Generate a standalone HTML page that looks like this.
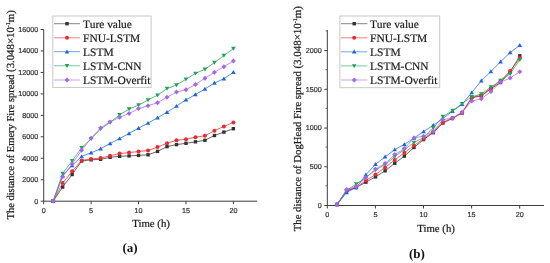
<!DOCTYPE html>
<html><head><meta charset="utf-8">
<style>
html,body{margin:0;padding:0;background:#fff;}
body{width:550px;height:263px;overflow:hidden;}
svg{display:block;filter:blur(0.35px);}
text{text-rendering:geometricPrecision;}
.tk{font-family:"Liberation Sans",sans-serif;font-size:7.2px;fill:#333;stroke:#333;stroke-width:0.2px;}
.lg{font-family:"Liberation Serif",serif;font-size:11.45px;fill:#1a1a1a;stroke:#1a1a1a;stroke-width:0.2px;}
.ax{font-family:"Liberation Serif",serif;fill:#1a1a1a;stroke:#1a1a1a;stroke-width:0.22px;}
.lab{font-family:"Liberation Serif",serif;font-size:13px;font-weight:bold;fill:#111;}
</style></head>
<body>
<svg width="550" height="263" viewBox="0 0 550 263">
<rect width="550" height="263" fill="#fff"/>
<path d="M43.7 29.3 L43.7 201.2 L257 201.2" fill="none" stroke="#3c3c3c" stroke-width="1"/>
<line x1="40.7" y1="201.20" x2="43.7" y2="201.20" stroke="#3c3c3c" stroke-width="1"/>
<text x="38.2" y="203.50" text-anchor="end" class="tk">0</text>
<line x1="40.7" y1="179.74" x2="43.7" y2="179.74" stroke="#3c3c3c" stroke-width="1"/>
<text x="38.2" y="182.04" text-anchor="end" class="tk">2000</text>
<line x1="40.7" y1="158.28" x2="43.7" y2="158.28" stroke="#3c3c3c" stroke-width="1"/>
<text x="38.2" y="160.58" text-anchor="end" class="tk">4000</text>
<line x1="40.7" y1="136.82" x2="43.7" y2="136.82" stroke="#3c3c3c" stroke-width="1"/>
<text x="38.2" y="139.12" text-anchor="end" class="tk">6000</text>
<line x1="40.7" y1="115.36" x2="43.7" y2="115.36" stroke="#3c3c3c" stroke-width="1"/>
<text x="38.2" y="117.66" text-anchor="end" class="tk">8000</text>
<line x1="40.7" y1="93.90" x2="43.7" y2="93.90" stroke="#3c3c3c" stroke-width="1"/>
<text x="38.2" y="96.20" text-anchor="end" class="tk">10000</text>
<line x1="40.7" y1="72.44" x2="43.7" y2="72.44" stroke="#3c3c3c" stroke-width="1"/>
<text x="38.2" y="74.74" text-anchor="end" class="tk">12000</text>
<line x1="40.7" y1="50.98" x2="43.7" y2="50.98" stroke="#3c3c3c" stroke-width="1"/>
<text x="38.2" y="53.28" text-anchor="end" class="tk">14000</text>
<line x1="40.7" y1="29.52" x2="43.7" y2="29.52" stroke="#3c3c3c" stroke-width="1"/>
<text x="38.2" y="31.82" text-anchor="end" class="tk">16000</text>
<line x1="43.70" y1="201.2" x2="43.70" y2="204.2" stroke="#3c3c3c" stroke-width="1"/>
<text x="43.70" y="212.70" text-anchor="middle" class="tk">0</text>
<line x1="91.12" y1="201.2" x2="91.12" y2="204.2" stroke="#3c3c3c" stroke-width="1"/>
<text x="91.12" y="212.70" text-anchor="middle" class="tk">5</text>
<line x1="138.55" y1="201.2" x2="138.55" y2="204.2" stroke="#3c3c3c" stroke-width="1"/>
<text x="138.55" y="212.70" text-anchor="middle" class="tk">10</text>
<line x1="185.97" y1="201.2" x2="185.97" y2="204.2" stroke="#3c3c3c" stroke-width="1"/>
<text x="185.97" y="212.70" text-anchor="middle" class="tk">15</text>
<line x1="233.40" y1="201.2" x2="233.40" y2="204.2" stroke="#3c3c3c" stroke-width="1"/>
<text x="233.40" y="212.70" text-anchor="middle" class="tk">20</text>
<rect x="52.8" y="16" width="98.3" height="71.4" fill="none" stroke="#c8c8c8" stroke-width="1"/>
<line x1="54" y1="23.7" x2="80" y2="23.7" stroke="#333333" stroke-width="0.6"/>
<rect x="65.30" y="22.00" width="3.40" height="3.40" fill="#333333"/>
<text x="83.1" y="27.60" class="lg">Ture value</text>
<line x1="54" y1="37.8" x2="80" y2="37.8" stroke="#ea2a2e" stroke-width="0.6"/>
<circle cx="67.00" cy="37.80" r="2.00" fill="#ea2a2e"/>
<text x="83.1" y="41.70" class="lg">FNU-LSTM</text>
<line x1="54" y1="51.7" x2="80" y2="51.7" stroke="#1b65df" stroke-width="0.6"/>
<path d="M67.00 49.50L69.31 53.46L64.69 53.46Z" fill="#1b65df"/>
<text x="83.1" y="55.60" class="lg">LSTM</text>
<line x1="54" y1="65.8" x2="80" y2="65.8" stroke="#22a254" stroke-width="0.6"/>
<path d="M67.00 68.00L69.31 64.04L64.69 64.04Z" fill="#22a254"/>
<text x="83.1" y="69.70" class="lg">LSTM-CNN</text>
<line x1="54" y1="80" x2="80" y2="80" stroke="#a566e8" stroke-width="0.6"/>
<path d="M67.00 77.55L69.45 80.00L67.00 82.45L64.55 80.00Z" fill="#a566e8"/>
<text x="83.1" y="83.90" class="lg">LSTM-Overfit</text>
<path d="M53.19 201.00 L62.67 187.00 L72.16 174.50 L81.64 161.00 L91.12 159.80 L100.61 159.30 L110.09 157.30 L119.58 156.30 L129.06 155.90 L138.55 155.40 L148.03 154.80 L157.52 151.40 L167.00 146.60 L176.49 144.60 L185.97 143.30 L195.46 141.80 L204.94 140.30 L214.43 135.50 L223.91 132.10 L233.40 128.70" fill="none" stroke="#333333" stroke-width="0.75"/>
<rect x="51.48" y="199.30" width="3.40" height="3.40" fill="#333333"/>
<rect x="60.97" y="185.30" width="3.40" height="3.40" fill="#333333"/>
<rect x="70.45" y="172.80" width="3.40" height="3.40" fill="#333333"/>
<rect x="79.94" y="159.30" width="3.40" height="3.40" fill="#333333"/>
<rect x="89.42" y="158.10" width="3.40" height="3.40" fill="#333333"/>
<rect x="98.91" y="157.60" width="3.40" height="3.40" fill="#333333"/>
<rect x="108.39" y="155.60" width="3.40" height="3.40" fill="#333333"/>
<rect x="117.88" y="154.60" width="3.40" height="3.40" fill="#333333"/>
<rect x="127.36" y="154.20" width="3.40" height="3.40" fill="#333333"/>
<rect x="136.85" y="153.70" width="3.40" height="3.40" fill="#333333"/>
<rect x="146.34" y="153.10" width="3.40" height="3.40" fill="#333333"/>
<rect x="155.82" y="149.70" width="3.40" height="3.40" fill="#333333"/>
<rect x="165.31" y="144.90" width="3.40" height="3.40" fill="#333333"/>
<rect x="174.79" y="142.90" width="3.40" height="3.40" fill="#333333"/>
<rect x="184.27" y="141.60" width="3.40" height="3.40" fill="#333333"/>
<rect x="193.76" y="140.10" width="3.40" height="3.40" fill="#333333"/>
<rect x="203.25" y="138.60" width="3.40" height="3.40" fill="#333333"/>
<rect x="212.73" y="133.80" width="3.40" height="3.40" fill="#333333"/>
<rect x="222.21" y="130.40" width="3.40" height="3.40" fill="#333333"/>
<rect x="231.70" y="127.00" width="3.40" height="3.40" fill="#333333"/>
<path d="M53.19 201.00 L62.67 183.00 L72.16 171.30 L81.64 160.40 L91.12 158.90 L100.61 158.10 L110.09 155.80 L119.58 153.60 L129.06 152.60 L138.55 151.50 L148.03 150.50 L157.52 147.10 L167.00 143.20 L176.49 140.30 L185.97 139.20 L195.46 137.20 L204.94 135.80 L214.43 130.70 L223.91 126.40 L233.40 122.40" fill="none" stroke="#ea2a2e" stroke-width="0.75"/>
<circle cx="53.19" cy="201.00" r="2.00" fill="#ea2a2e"/>
<circle cx="62.67" cy="183.00" r="2.00" fill="#ea2a2e"/>
<circle cx="72.16" cy="171.30" r="2.00" fill="#ea2a2e"/>
<circle cx="81.64" cy="160.40" r="2.00" fill="#ea2a2e"/>
<circle cx="91.12" cy="158.90" r="2.00" fill="#ea2a2e"/>
<circle cx="100.61" cy="158.10" r="2.00" fill="#ea2a2e"/>
<circle cx="110.09" cy="155.80" r="2.00" fill="#ea2a2e"/>
<circle cx="119.58" cy="153.60" r="2.00" fill="#ea2a2e"/>
<circle cx="129.06" cy="152.60" r="2.00" fill="#ea2a2e"/>
<circle cx="138.55" cy="151.50" r="2.00" fill="#ea2a2e"/>
<circle cx="148.03" cy="150.50" r="2.00" fill="#ea2a2e"/>
<circle cx="157.52" cy="147.10" r="2.00" fill="#ea2a2e"/>
<circle cx="167.00" cy="143.20" r="2.00" fill="#ea2a2e"/>
<circle cx="176.49" cy="140.30" r="2.00" fill="#ea2a2e"/>
<circle cx="185.97" cy="139.20" r="2.00" fill="#ea2a2e"/>
<circle cx="195.46" cy="137.20" r="2.00" fill="#ea2a2e"/>
<circle cx="204.94" cy="135.80" r="2.00" fill="#ea2a2e"/>
<circle cx="214.43" cy="130.70" r="2.00" fill="#ea2a2e"/>
<circle cx="223.91" cy="126.40" r="2.00" fill="#ea2a2e"/>
<circle cx="233.40" cy="122.40" r="2.00" fill="#ea2a2e"/>
<path d="M53.19 201.00 L62.67 175.50 L72.16 165.40 L81.64 156.40 L91.12 152.80 L100.61 148.70 L110.09 143.50 L119.58 138.60 L129.06 133.40 L138.55 128.20 L148.03 123.10 L157.52 117.80 L167.00 112.30 L176.49 106.10 L185.97 99.80 L195.46 94.50 L204.94 89.00 L214.43 83.00 L223.91 78.70 L233.40 72.30" fill="none" stroke="#1b65df" stroke-width="0.75"/>
<path d="M53.19 198.80L55.50 202.76L50.88 202.76Z" fill="#1b65df"/>
<path d="M62.67 173.30L64.98 177.26L60.36 177.26Z" fill="#1b65df"/>
<path d="M72.16 163.20L74.47 167.16L69.84 167.16Z" fill="#1b65df"/>
<path d="M81.64 154.20L83.95 158.16L79.33 158.16Z" fill="#1b65df"/>
<path d="M91.12 150.60L93.44 154.56L88.81 154.56Z" fill="#1b65df"/>
<path d="M100.61 146.50L102.92 150.46L98.30 150.46Z" fill="#1b65df"/>
<path d="M110.09 141.30L112.41 145.26L107.78 145.26Z" fill="#1b65df"/>
<path d="M119.58 136.40L121.89 140.36L117.27 140.36Z" fill="#1b65df"/>
<path d="M129.06 131.20L131.38 135.16L126.75 135.16Z" fill="#1b65df"/>
<path d="M138.55 126.00L140.86 129.96L136.24 129.96Z" fill="#1b65df"/>
<path d="M148.03 120.90L150.34 124.86L145.72 124.86Z" fill="#1b65df"/>
<path d="M157.52 115.60L159.83 119.56L155.21 119.56Z" fill="#1b65df"/>
<path d="M167.00 110.10L169.31 114.06L164.69 114.06Z" fill="#1b65df"/>
<path d="M176.49 103.90L178.80 107.86L174.18 107.86Z" fill="#1b65df"/>
<path d="M185.97 97.60L188.28 101.56L183.66 101.56Z" fill="#1b65df"/>
<path d="M195.46 92.30L197.77 96.26L193.15 96.26Z" fill="#1b65df"/>
<path d="M204.94 86.80L207.25 90.76L202.63 90.76Z" fill="#1b65df"/>
<path d="M214.43 80.80L216.74 84.76L212.12 84.76Z" fill="#1b65df"/>
<path d="M223.91 76.50L226.22 80.46L221.60 80.46Z" fill="#1b65df"/>
<path d="M233.40 70.10L235.71 74.06L231.09 74.06Z" fill="#1b65df"/>
<path d="M53.19 201.00 L62.67 173.50 L72.16 160.80 L81.64 147.70 L91.12 138.80 L100.61 129.00 L110.09 122.50 L119.58 114.80 L129.06 109.10 L138.55 105.10 L148.03 100.00 L157.52 95.20 L167.00 88.60 L176.49 85.00 L185.97 79.30 L195.46 73.40 L204.94 69.30 L214.43 62.60 L223.91 55.60 L233.40 48.50" fill="none" stroke="#22a254" stroke-width="0.75"/>
<path d="M53.19 203.20L55.50 199.24L50.88 199.24Z" fill="#22a254"/>
<path d="M62.67 175.70L64.98 171.74L60.36 171.74Z" fill="#22a254"/>
<path d="M72.16 163.00L74.47 159.04L69.84 159.04Z" fill="#22a254"/>
<path d="M81.64 149.90L83.95 145.94L79.33 145.94Z" fill="#22a254"/>
<path d="M91.12 141.00L93.44 137.04L88.81 137.04Z" fill="#22a254"/>
<path d="M100.61 131.20L102.92 127.24L98.30 127.24Z" fill="#22a254"/>
<path d="M110.09 124.70L112.41 120.74L107.78 120.74Z" fill="#22a254"/>
<path d="M119.58 117.00L121.89 113.04L117.27 113.04Z" fill="#22a254"/>
<path d="M129.06 111.30L131.38 107.34L126.75 107.34Z" fill="#22a254"/>
<path d="M138.55 107.30L140.86 103.34L136.24 103.34Z" fill="#22a254"/>
<path d="M148.03 102.20L150.34 98.24L145.72 98.24Z" fill="#22a254"/>
<path d="M157.52 97.40L159.83 93.44L155.21 93.44Z" fill="#22a254"/>
<path d="M167.00 90.80L169.31 86.84L164.69 86.84Z" fill="#22a254"/>
<path d="M176.49 87.20L178.80 83.24L174.18 83.24Z" fill="#22a254"/>
<path d="M185.97 81.50L188.28 77.54L183.66 77.54Z" fill="#22a254"/>
<path d="M195.46 75.60L197.77 71.64L193.15 71.64Z" fill="#22a254"/>
<path d="M204.94 71.50L207.25 67.54L202.63 67.54Z" fill="#22a254"/>
<path d="M214.43 64.80L216.74 60.84L212.12 60.84Z" fill="#22a254"/>
<path d="M223.91 57.80L226.22 53.84L221.60 53.84Z" fill="#22a254"/>
<path d="M233.40 50.70L235.71 46.74L231.09 46.74Z" fill="#22a254"/>
<path d="M53.19 201.00 L62.67 176.80 L72.16 163.90 L81.64 150.30 L91.12 138.20 L100.61 127.90 L110.09 121.90 L119.58 117.30 L129.06 113.50 L138.55 108.60 L148.03 105.80 L157.52 102.70 L167.00 97.30 L176.49 92.00 L185.97 89.70 L195.46 84.50 L204.94 78.20 L214.43 72.30 L223.91 66.70 L233.40 61.00" fill="none" stroke="#a566e8" stroke-width="0.75"/>
<path d="M53.19 198.55L55.64 201.00L53.19 203.45L50.73 201.00Z" fill="#a566e8"/>
<path d="M62.67 174.35L65.12 176.80L62.67 179.25L60.22 176.80Z" fill="#a566e8"/>
<path d="M72.16 161.45L74.61 163.90L72.16 166.35L69.70 163.90Z" fill="#a566e8"/>
<path d="M81.64 147.85L84.09 150.30L81.64 152.75L79.19 150.30Z" fill="#a566e8"/>
<path d="M91.12 135.75L93.58 138.20L91.12 140.65L88.67 138.20Z" fill="#a566e8"/>
<path d="M100.61 125.45L103.06 127.90L100.61 130.35L98.16 127.90Z" fill="#a566e8"/>
<path d="M110.09 119.45L112.55 121.90L110.09 124.35L107.64 121.90Z" fill="#a566e8"/>
<path d="M119.58 114.85L122.03 117.30L119.58 119.75L117.13 117.30Z" fill="#a566e8"/>
<path d="M129.06 111.05L131.51 113.50L129.06 115.95L126.61 113.50Z" fill="#a566e8"/>
<path d="M138.55 106.15L141.00 108.60L138.55 111.05L136.10 108.60Z" fill="#a566e8"/>
<path d="M148.03 103.35L150.48 105.80L148.03 108.25L145.59 105.80Z" fill="#a566e8"/>
<path d="M157.52 100.25L159.97 102.70L157.52 105.15L155.07 102.70Z" fill="#a566e8"/>
<path d="M167.00 94.85L169.45 97.30L167.00 99.75L164.56 97.30Z" fill="#a566e8"/>
<path d="M176.49 89.55L178.94 92.00L176.49 94.45L174.04 92.00Z" fill="#a566e8"/>
<path d="M185.97 87.25L188.42 89.70L185.97 92.15L183.52 89.70Z" fill="#a566e8"/>
<path d="M195.46 82.05L197.91 84.50L195.46 86.95L193.01 84.50Z" fill="#a566e8"/>
<path d="M204.94 75.75L207.39 78.20L204.94 80.65L202.50 78.20Z" fill="#a566e8"/>
<path d="M214.43 69.85L216.88 72.30L214.43 74.75L211.98 72.30Z" fill="#a566e8"/>
<path d="M223.91 64.25L226.36 66.70L223.91 69.15L221.46 66.70Z" fill="#a566e8"/>
<path d="M233.40 58.55L235.85 61.00L233.40 63.45L230.95 61.00Z" fill="#a566e8"/>
<text transform="translate(14.3 219.5) rotate(-90)" class="ax" font-size="10.5">The distance of Emery Fire spread <tspan font-size="10.8">(3.048×10</tspan><tspan dy="-4.6" font-size="6">-1</tspan><tspan dy="4.6" font-size="10.8">m)</tspan></text>
<text x="132.2" y="227.4" class="ax" font-size="10.8">Time (h)</text>
<text x="122.5" y="252" class="lab">(a)</text>
<path d="M327.3 30 L327.3 205.5 L544 205.5" fill="none" stroke="#3c3c3c" stroke-width="1"/>
<line x1="324.3" y1="205.50" x2="327.3" y2="205.50" stroke="#3c3c3c" stroke-width="1"/>
<text x="321.8" y="207.80" text-anchor="end" class="tk">0</text>
<line x1="324.3" y1="166.77" x2="327.3" y2="166.77" stroke="#3c3c3c" stroke-width="1"/>
<text x="321.8" y="169.07" text-anchor="end" class="tk">500</text>
<line x1="324.3" y1="128.04" x2="327.3" y2="128.04" stroke="#3c3c3c" stroke-width="1"/>
<text x="321.8" y="130.34" text-anchor="end" class="tk">1000</text>
<line x1="324.3" y1="89.31" x2="327.3" y2="89.31" stroke="#3c3c3c" stroke-width="1"/>
<text x="321.8" y="91.61" text-anchor="end" class="tk">1500</text>
<line x1="324.3" y1="50.58" x2="327.3" y2="50.58" stroke="#3c3c3c" stroke-width="1"/>
<text x="321.8" y="52.88" text-anchor="end" class="tk">2000</text>
<line x1="327.30" y1="205.5" x2="327.30" y2="208.5" stroke="#3c3c3c" stroke-width="1"/>
<text x="327.30" y="217.00" text-anchor="middle" class="tk">0</text>
<line x1="375.40" y1="205.5" x2="375.40" y2="208.5" stroke="#3c3c3c" stroke-width="1"/>
<text x="375.40" y="217.00" text-anchor="middle" class="tk">5</text>
<line x1="423.50" y1="205.5" x2="423.50" y2="208.5" stroke="#3c3c3c" stroke-width="1"/>
<text x="423.50" y="217.00" text-anchor="middle" class="tk">10</text>
<line x1="471.60" y1="205.5" x2="471.60" y2="208.5" stroke="#3c3c3c" stroke-width="1"/>
<text x="471.60" y="217.00" text-anchor="middle" class="tk">15</text>
<line x1="519.70" y1="205.5" x2="519.70" y2="208.5" stroke="#3c3c3c" stroke-width="1"/>
<text x="519.70" y="217.00" text-anchor="middle" class="tk">20</text>
<line x1="325.6" y1="185.83" x2="327.3" y2="185.83" stroke="#4a4a4a" stroke-width="0.8"/>
<line x1="325.6" y1="147.10" x2="327.3" y2="147.10" stroke="#4a4a4a" stroke-width="0.8"/>
<line x1="325.6" y1="108.38" x2="327.3" y2="108.38" stroke="#4a4a4a" stroke-width="0.8"/>
<line x1="325.6" y1="69.65" x2="327.3" y2="69.65" stroke="#4a4a4a" stroke-width="0.8"/>
<line x1="325.6" y1="30.91" x2="327.3" y2="30.91" stroke="#4a4a4a" stroke-width="0.8"/>
<rect x="339.9" y="16" width="99.8" height="71.7" fill="none" stroke="#c8c8c8" stroke-width="1"/>
<line x1="341" y1="23.7" x2="367.4" y2="23.7" stroke="#333333" stroke-width="0.6"/>
<rect x="352.50" y="22.00" width="3.40" height="3.40" fill="#333333"/>
<text x="370.1" y="27.60" class="lg">Ture value</text>
<line x1="341" y1="37.8" x2="367.4" y2="37.8" stroke="#ea2a2e" stroke-width="0.6"/>
<circle cx="354.20" cy="37.80" r="2.00" fill="#ea2a2e"/>
<text x="370.1" y="41.70" class="lg">FNU-LSTM</text>
<line x1="341" y1="51.8" x2="367.4" y2="51.8" stroke="#1b65df" stroke-width="0.6"/>
<path d="M354.20 49.60L356.51 53.56L351.89 53.56Z" fill="#1b65df"/>
<text x="370.1" y="55.70" class="lg">LSTM</text>
<line x1="341" y1="65.9" x2="367.4" y2="65.9" stroke="#22a254" stroke-width="0.6"/>
<path d="M354.20 68.10L356.51 64.14L351.89 64.14Z" fill="#22a254"/>
<text x="370.1" y="69.80" class="lg">LSTM-CNN</text>
<line x1="341" y1="80" x2="367.4" y2="80" stroke="#a566e8" stroke-width="0.6"/>
<path d="M354.20 77.55L356.65 80.00L354.20 82.45L351.75 80.00Z" fill="#a566e8"/>
<text x="370.1" y="83.90" class="lg">LSTM-Overfit</text>
<path d="M337.02 204.50 L346.64 190.80 L356.26 187.40 L365.88 182.20 L375.50 176.90 L385.12 170.80 L394.74 163.30 L404.36 156.10 L413.98 147.50 L423.60 139.60 L433.22 132.70 L442.84 123.00 L452.46 118.50 L462.08 113.00 L471.70 97.80 L481.32 95.90 L490.94 88.80 L500.56 82.50 L510.18 72.00 L519.80 55.80" fill="none" stroke="#333333" stroke-width="0.75"/>
<rect x="335.32" y="202.80" width="3.40" height="3.40" fill="#333333"/>
<rect x="344.94" y="189.10" width="3.40" height="3.40" fill="#333333"/>
<rect x="354.56" y="185.70" width="3.40" height="3.40" fill="#333333"/>
<rect x="364.18" y="180.50" width="3.40" height="3.40" fill="#333333"/>
<rect x="373.80" y="175.20" width="3.40" height="3.40" fill="#333333"/>
<rect x="383.42" y="169.10" width="3.40" height="3.40" fill="#333333"/>
<rect x="393.04" y="161.60" width="3.40" height="3.40" fill="#333333"/>
<rect x="402.66" y="154.40" width="3.40" height="3.40" fill="#333333"/>
<rect x="412.28" y="145.80" width="3.40" height="3.40" fill="#333333"/>
<rect x="421.90" y="137.90" width="3.40" height="3.40" fill="#333333"/>
<rect x="431.52" y="131.00" width="3.40" height="3.40" fill="#333333"/>
<rect x="441.14" y="121.30" width="3.40" height="3.40" fill="#333333"/>
<rect x="450.76" y="116.80" width="3.40" height="3.40" fill="#333333"/>
<rect x="460.38" y="111.30" width="3.40" height="3.40" fill="#333333"/>
<rect x="470.00" y="96.10" width="3.40" height="3.40" fill="#333333"/>
<rect x="479.62" y="94.20" width="3.40" height="3.40" fill="#333333"/>
<rect x="489.24" y="87.10" width="3.40" height="3.40" fill="#333333"/>
<rect x="498.86" y="80.80" width="3.40" height="3.40" fill="#333333"/>
<rect x="508.48" y="70.30" width="3.40" height="3.40" fill="#333333"/>
<rect x="518.10" y="54.10" width="3.40" height="3.40" fill="#333333"/>
<path d="M337.02 204.50 L346.64 190.80 L356.26 187.40 L365.88 180.50 L375.50 174.60 L385.12 167.40 L394.74 159.90 L404.36 152.70 L413.98 145.50 L423.60 138.70 L433.22 132.00 L442.84 122.40 L452.46 118.00 L462.08 112.70 L471.70 97.40 L481.32 95.50 L490.94 88.20 L500.56 80.80 L510.18 70.90 L519.80 58.10" fill="none" stroke="#ea2a2e" stroke-width="0.75"/>
<circle cx="337.02" cy="204.50" r="2.00" fill="#ea2a2e"/>
<circle cx="346.64" cy="190.80" r="2.00" fill="#ea2a2e"/>
<circle cx="356.26" cy="187.40" r="2.00" fill="#ea2a2e"/>
<circle cx="365.88" cy="180.50" r="2.00" fill="#ea2a2e"/>
<circle cx="375.50" cy="174.60" r="2.00" fill="#ea2a2e"/>
<circle cx="385.12" cy="167.40" r="2.00" fill="#ea2a2e"/>
<circle cx="394.74" cy="159.90" r="2.00" fill="#ea2a2e"/>
<circle cx="404.36" cy="152.70" r="2.00" fill="#ea2a2e"/>
<circle cx="413.98" cy="145.50" r="2.00" fill="#ea2a2e"/>
<circle cx="423.60" cy="138.70" r="2.00" fill="#ea2a2e"/>
<circle cx="433.22" cy="132.00" r="2.00" fill="#ea2a2e"/>
<circle cx="442.84" cy="122.40" r="2.00" fill="#ea2a2e"/>
<circle cx="452.46" cy="118.00" r="2.00" fill="#ea2a2e"/>
<circle cx="462.08" cy="112.70" r="2.00" fill="#ea2a2e"/>
<circle cx="471.70" cy="97.40" r="2.00" fill="#ea2a2e"/>
<circle cx="481.32" cy="95.50" r="2.00" fill="#ea2a2e"/>
<circle cx="490.94" cy="88.20" r="2.00" fill="#ea2a2e"/>
<circle cx="500.56" cy="80.80" r="2.00" fill="#ea2a2e"/>
<circle cx="510.18" cy="70.90" r="2.00" fill="#ea2a2e"/>
<circle cx="519.80" cy="58.10" r="2.00" fill="#ea2a2e"/>
<path d="M337.02 204.50 L346.64 192.50 L356.26 187.40 L365.88 174.80 L375.50 164.30 L385.12 156.80 L394.74 149.60 L404.36 144.40 L413.98 138.00 L423.60 131.60 L433.22 125.30 L442.84 118.60 L452.46 111.20 L462.08 104.30 L471.70 92.60 L481.32 80.70 L490.94 71.50 L500.56 61.70 L510.18 52.50 L519.80 45.30" fill="none" stroke="#1b65df" stroke-width="0.75"/>
<path d="M337.02 202.30L339.33 206.26L334.71 206.26Z" fill="#1b65df"/>
<path d="M346.64 190.30L348.95 194.26L344.33 194.26Z" fill="#1b65df"/>
<path d="M356.26 185.20L358.57 189.16L353.95 189.16Z" fill="#1b65df"/>
<path d="M365.88 172.60L368.19 176.56L363.57 176.56Z" fill="#1b65df"/>
<path d="M375.50 162.10L377.81 166.06L373.19 166.06Z" fill="#1b65df"/>
<path d="M385.12 154.60L387.43 158.56L382.81 158.56Z" fill="#1b65df"/>
<path d="M394.74 147.40L397.05 151.36L392.43 151.36Z" fill="#1b65df"/>
<path d="M404.36 142.20L406.67 146.16L402.05 146.16Z" fill="#1b65df"/>
<path d="M413.98 135.80L416.29 139.76L411.67 139.76Z" fill="#1b65df"/>
<path d="M423.60 129.40L425.91 133.36L421.29 133.36Z" fill="#1b65df"/>
<path d="M433.22 123.10L435.53 127.06L430.91 127.06Z" fill="#1b65df"/>
<path d="M442.84 116.40L445.15 120.36L440.53 120.36Z" fill="#1b65df"/>
<path d="M452.46 109.00L454.77 112.96L450.15 112.96Z" fill="#1b65df"/>
<path d="M462.08 102.10L464.39 106.06L459.77 106.06Z" fill="#1b65df"/>
<path d="M471.70 90.40L474.01 94.36L469.39 94.36Z" fill="#1b65df"/>
<path d="M481.32 78.50L483.63 82.46L479.01 82.46Z" fill="#1b65df"/>
<path d="M490.94 69.30L493.25 73.26L488.63 73.26Z" fill="#1b65df"/>
<path d="M500.56 59.50L502.87 63.46L498.25 63.46Z" fill="#1b65df"/>
<path d="M510.18 50.30L512.49 54.26L507.87 54.26Z" fill="#1b65df"/>
<path d="M519.80 43.10L522.11 47.06L517.49 47.06Z" fill="#1b65df"/>
<path d="M337.02 204.50 L346.64 190.50 L356.26 184.00 L365.88 177.50 L375.50 170.00 L385.12 164.60 L394.74 156.50 L404.36 149.60 L413.98 142.60 L423.60 137.50 L433.22 128.10 L442.84 116.60 L452.46 110.60 L462.08 103.70 L471.70 96.80 L481.32 94.00 L490.94 87.10 L500.56 80.60 L510.18 73.90 L519.80 59.80" fill="none" stroke="#22a254" stroke-width="0.75"/>
<path d="M337.02 206.70L339.33 202.74L334.71 202.74Z" fill="#22a254"/>
<path d="M346.64 192.70L348.95 188.74L344.33 188.74Z" fill="#22a254"/>
<path d="M356.26 186.20L358.57 182.24L353.95 182.24Z" fill="#22a254"/>
<path d="M365.88 179.70L368.19 175.74L363.57 175.74Z" fill="#22a254"/>
<path d="M375.50 172.20L377.81 168.24L373.19 168.24Z" fill="#22a254"/>
<path d="M385.12 166.80L387.43 162.84L382.81 162.84Z" fill="#22a254"/>
<path d="M394.74 158.70L397.05 154.74L392.43 154.74Z" fill="#22a254"/>
<path d="M404.36 151.80L406.67 147.84L402.05 147.84Z" fill="#22a254"/>
<path d="M413.98 144.80L416.29 140.84L411.67 140.84Z" fill="#22a254"/>
<path d="M423.60 139.70L425.91 135.74L421.29 135.74Z" fill="#22a254"/>
<path d="M433.22 130.30L435.53 126.34L430.91 126.34Z" fill="#22a254"/>
<path d="M442.84 118.80L445.15 114.84L440.53 114.84Z" fill="#22a254"/>
<path d="M452.46 112.80L454.77 108.84L450.15 108.84Z" fill="#22a254"/>
<path d="M462.08 105.90L464.39 101.94L459.77 101.94Z" fill="#22a254"/>
<path d="M471.70 99.00L474.01 95.04L469.39 95.04Z" fill="#22a254"/>
<path d="M481.32 96.20L483.63 92.24L479.01 92.24Z" fill="#22a254"/>
<path d="M490.94 89.30L493.25 85.34L488.63 85.34Z" fill="#22a254"/>
<path d="M500.56 82.80L502.87 78.84L498.25 78.84Z" fill="#22a254"/>
<path d="M510.18 76.10L512.49 72.14L507.87 72.14Z" fill="#22a254"/>
<path d="M519.80 62.00L522.11 58.04L517.49 58.04Z" fill="#22a254"/>
<path d="M337.02 204.50 L346.64 189.50 L356.26 186.50 L365.88 177.70 L375.50 169.10 L385.12 163.50 L394.74 154.60 L404.36 148.60 L413.98 137.90 L423.60 136.20 L433.22 131.50 L442.84 119.70 L452.46 118.20 L462.08 112.10 L471.70 101.10 L481.32 98.80 L490.94 91.50 L500.56 82.10 L510.18 78.00 L519.80 71.70" fill="none" stroke="#a566e8" stroke-width="0.75"/>
<path d="M337.02 202.05L339.47 204.50L337.02 206.95L334.57 204.50Z" fill="#a566e8"/>
<path d="M346.64 187.05L349.09 189.50L346.64 191.95L344.19 189.50Z" fill="#a566e8"/>
<path d="M356.26 184.05L358.71 186.50L356.26 188.95L353.81 186.50Z" fill="#a566e8"/>
<path d="M365.88 175.25L368.33 177.70L365.88 180.15L363.43 177.70Z" fill="#a566e8"/>
<path d="M375.50 166.65L377.95 169.10L375.50 171.55L373.05 169.10Z" fill="#a566e8"/>
<path d="M385.12 161.05L387.57 163.50L385.12 165.95L382.67 163.50Z" fill="#a566e8"/>
<path d="M394.74 152.15L397.19 154.60L394.74 157.05L392.29 154.60Z" fill="#a566e8"/>
<path d="M404.36 146.15L406.81 148.60L404.36 151.05L401.91 148.60Z" fill="#a566e8"/>
<path d="M413.98 135.45L416.43 137.90L413.98 140.35L411.53 137.90Z" fill="#a566e8"/>
<path d="M423.60 133.75L426.05 136.20L423.60 138.65L421.15 136.20Z" fill="#a566e8"/>
<path d="M433.22 129.05L435.67 131.50L433.22 133.95L430.77 131.50Z" fill="#a566e8"/>
<path d="M442.84 117.25L445.29 119.70L442.84 122.15L440.39 119.70Z" fill="#a566e8"/>
<path d="M452.46 115.75L454.91 118.20L452.46 120.65L450.01 118.20Z" fill="#a566e8"/>
<path d="M462.08 109.65L464.53 112.10L462.08 114.55L459.63 112.10Z" fill="#a566e8"/>
<path d="M471.70 98.65L474.15 101.10L471.70 103.55L469.25 101.10Z" fill="#a566e8"/>
<path d="M481.32 96.35L483.77 98.80L481.32 101.25L478.87 98.80Z" fill="#a566e8"/>
<path d="M490.94 89.05L493.39 91.50L490.94 93.95L488.49 91.50Z" fill="#a566e8"/>
<path d="M500.56 79.65L503.01 82.10L500.56 84.55L498.11 82.10Z" fill="#a566e8"/>
<path d="M510.18 75.55L512.63 78.00L510.18 80.45L507.73 78.00Z" fill="#a566e8"/>
<path d="M519.80 69.25L522.25 71.70L519.80 74.15L517.35 71.70Z" fill="#a566e8"/>
<text transform="translate(301.1 231.2) rotate(-90)" class="ax" font-size="10.7">The distance of DogHead Fire spread <tspan font-size="10.95">(3.048×10</tspan><tspan dy="-4.6" font-size="6">-1</tspan><tspan dy="4.6" font-size="10.95">m)</tspan></text>
<text x="417.2" y="232.2" class="ax" font-size="10.8">Time (h)</text>
<text x="409" y="258" class="lab">(b)</text>
</svg>
</body></html>
